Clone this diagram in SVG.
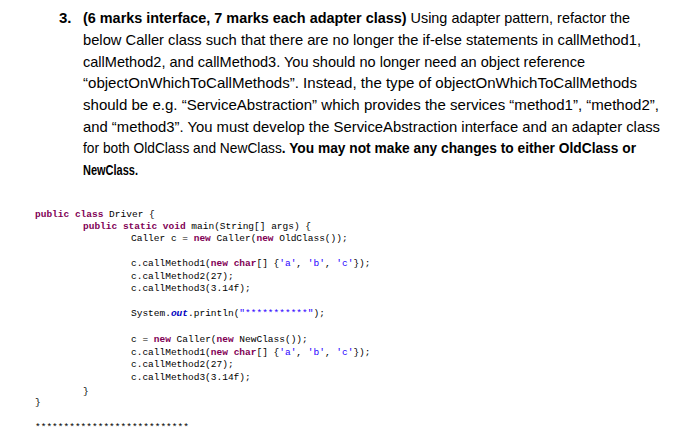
<svg xmlns="http://www.w3.org/2000/svg" width="692" height="437" viewBox="0 0 692 437">
<style>
.p{font-family:"Liberation Sans",Arial,sans-serif;font-size:15px;fill:#000}
.b{font-weight:bold}
.c{font-family:"Liberation Mono","DejaVu Sans Mono",monospace;font-size:9.5px;fill:#000;white-space:pre}
.k{fill:#7f0055;font-weight:bold}
.s{fill:#2a00ff}
.o{fill:#0000c0;font-style:italic;font-weight:bold}
</style>
<rect width="692" height="437" fill="#fff"/>
<g id="question">
<text class="p b" x="59" y="23">3.</text>
<text class="p" x="83" y="23" textLength="547" lengthAdjust="spacingAndGlyphs"><tspan class="b">(6 marks interface, 7 marks each adapter class)</tspan> Using adapter pattern, refactor the</text>
<text class="p" x="83" y="45" textLength="558" lengthAdjust="spacingAndGlyphs">below Caller class such that there are no longer the if-else statements in callMethod1,</text>
<text class="p" x="83" y="67" textLength="502" lengthAdjust="spacingAndGlyphs">callMethod2, and callMethod3. You should no longer need an object reference</text>
<text class="p" x="83" y="88" textLength="554" lengthAdjust="spacingAndGlyphs">“objectOnWhichToCallMethods”. Instead, the type of objectOnWhichToCallMethods</text>
<text class="p" x="83" y="110" textLength="576" lengthAdjust="spacingAndGlyphs">should be e.g. “ServiceAbstraction” which provides the services “method1”, “method2”,</text>
<text class="p" x="83" y="132" textLength="577" lengthAdjust="spacingAndGlyphs">and “method3”. You must develop the ServiceAbstraction interface and an adapter class</text>
<text class="p" x="83" y="153" textLength="553" lengthAdjust="spacingAndGlyphs">for both OldClass and NewClass<tspan class="b">. You may not make any changes to either OldClass or</tspan></text>
<text class="p b" x="83" y="175" textLength="55" lengthAdjust="spacingAndGlyphs">NewClass.</text>
</g>
<g id="code">
<text class="c" x="35" y="217"><tspan class="k">public class</tspan> Driver {</text>
<text class="c" x="83" y="229"><tspan class="k">public static void</tspan> main(String[] args) {</text>
<text class="c" x="131" y="241">Caller c = <tspan class="k">new</tspan> Caller(<tspan class="k">new</tspan> OldClass());</text>
<text class="c" x="131" y="266">c.callMethod1(<tspan class="k">new char</tspan>[] {<tspan class="s">'a'</tspan>, <tspan class="s">'b'</tspan>, <tspan class="s">'c'</tspan>});</text>
<text class="c" x="131" y="279">c.callMethod2(27);</text>
<text class="c" x="131" y="291">c.callMethod3(3.14f);</text>
<text class="c" x="131" y="316">System.<tspan class="o">out</tspan>.println(<tspan class="s">"***********"</tspan>);</text>
<text class="c" x="131" y="342">c = <tspan class="k">new</tspan> Caller(<tspan class="k">new</tspan> NewClass());</text>
<text class="c" x="131" y="355">c.callMethod1(<tspan class="k">new char</tspan>[] {<tspan class="s">'a'</tspan>, <tspan class="s">'b'</tspan>, <tspan class="s">'c'</tspan>});</text>
<text class="c" x="131" y="367">c.callMethod2(27);</text>
<text class="c" x="131" y="380">c.callMethod3(3.14f);</text>
<text class="c" x="83" y="394">}</text>
<text class="c" x="35" y="405">}</text>
<text class="c" x="35" y="430">***************************</text>
</g>
</svg>
